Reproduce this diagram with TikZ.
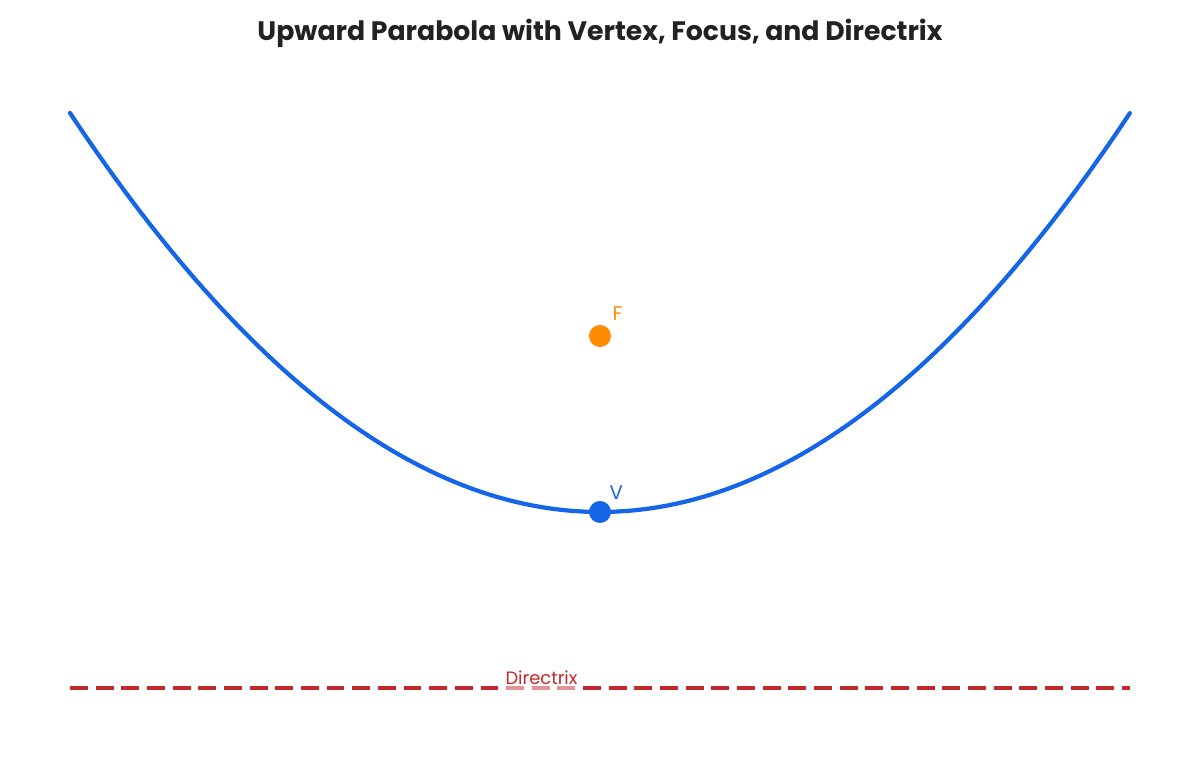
\documentclass[tikz,border=0pt]{standalone}
\usepackage{fontspec}
\setmainfont{Poppins}
\usepackage{tikz}
\usetikzlibrary{positioning}
\definecolor{curveblue}{HTML}{1565E8}
\definecolor{focusorange}{HTML}{FF8C00}
\definecolor{directred}{HTML}{C62828}
\definecolor{titlegray}{HTML}{222222}

\tikzset{
	dot/.style={circle, inner sep=0pt, minimum size=0.22cm},
	lbl/.style={inner sep=0pt, anchor=base west, font=\fontsize{5.6}{6}\selectfont}
}

\begin{document}
\begin{tikzpicture}
		\useasboundingbox (-6,-2.51) rectangle (6,5.12);
		\node [anchor=base, inner sep=0pt, text=titlegray, font=\bfseries\fontsize{7.6}{9}\selectfont] (title) at (0,4.71) {Upward Parabola with Vertex, Focus, and Directrix};
		\draw [curveblue, line width=1.2pt, line cap=round, domain=-5.3:5.3, samples=120] plot (\x, {\x*\x/7.04});
		\coordinate (dleft) at (-5.3,-1.76);
		\coordinate (dright) at (5.3,-1.76);
		\draw [directred, line width=1.35pt, dash pattern=on 5.1pt off 2.2pt] (dleft) -- (dright);
		\node [dot, fill=focusorange] (focus) at (0,1.76) {};
		\node [dot, fill=curveblue] (vertex) at (0,0) {};
		\node [lbl, text=focusorange] (flabel) at (0.12,1.91) {F};
		\node [lbl, text=curveblue] (vlabel) at (0.09,0.12) {V};
		\node [anchor=base, inner xsep=0.5pt, inner ysep=2.2pt, fill=white, fill opacity=0.5, text opacity=1, text=directred, font=\fontsize{5.1}{6}\selectfont] (dlabel) at (-0.585,-1.73) {Directrix};
		\end{tikzpicture}
\end{document}
